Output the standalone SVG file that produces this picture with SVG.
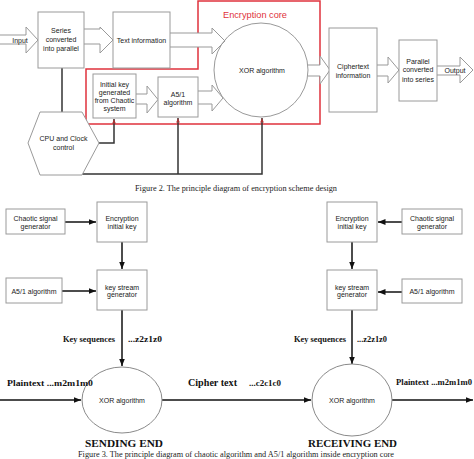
<svg xmlns="http://www.w3.org/2000/svg" width="474" height="459" viewBox="0 0 474 459">
<style>
.bx{fill:#fff;stroke:#9a9a9a;stroke-width:1}
.t{font-family:"Liberation Sans",Arial,sans-serif;font-size:7px;fill:#222;text-anchor:middle}
.ba{fill:#fff;stroke:#999;stroke-width:1}
.dk{fill:none;stroke:#333;stroke-width:1.5}
.bk{fill:none;stroke:#111;stroke-width:1.5}
.el{fill:none;stroke:#8a8a8a;stroke-width:1}
.sb{font-family:"Liberation Serif","Times New Roman",serif;font-weight:bold;fill:#111}
.cap{font-family:"Liberation Serif","Times New Roman",serif;font-size:8px;fill:#222}
</style>
<defs>
<marker id="ah" viewBox="0 0 10 10" refX="10" refY="5" markerWidth="5" markerHeight="5" orient="auto" markerUnits="strokeWidth"><path d="M0,1 L10,5 L0,9 z" fill="#111"/></marker>
<marker id="sm" viewBox="0 0 10 10" refX="10" refY="5" markerWidth="3" markerHeight="3" orient="auto" markerUnits="strokeWidth"><path d="M0,1 L10,5 L0,9 z" fill="#a33"/></marker>
</defs>
<rect width="474" height="459" fill="#fff"/>

<g id="encryption-core">
<path d="M198,1 H320 V124 H86 V69 H198 Z" fill="none" stroke="#e0323c" stroke-width="1.5"/>
<text x="255" y="18" font-family="'Liberation Sans',Arial,sans-serif" font-size="9.5" fill="#e0323c" text-anchor="middle" textLength="64" lengthAdjust="spacingAndGlyphs">Encryption core</text>
</g>

<g id="connectors">
<path class="ba" d="M0,35 H26 V27 L38,40 L26,53 V44 H0"/>
<path class="ba" d="M84,29 H100 V27 L113,40 L100,53 V44 H84"/>
<path class="ba" d="M170,33 H212 V28 L225,41 L212,54 V47 H170"/>
<path class="ba" d="M136,94 H147 V86 L158,99.5 L147,113 V104 H136"/>
<path class="ba" d="M198,91 H212 V85 L223,98 L212,111 V104 H198"/>
<path class="ba" d="M308,65 H320 V56 L330,70 L320,84 V76 H308"/>
<path class="ba" d="M377,65 H388 V57 L399,70 L388,83 V76 H377"/>
<path class="ba" d="M437,66 H460 V57 L473,70 L460,83 V75 H437"/>
<path class="dk" d="M62,68 V112"/>
<path class="dk" d="M99,143 H114 V119" marker-end="url(#sm)"/>
<path class="dk" d="M82,174 H262 V118" marker-end="url(#sm)"/>
<path class="dk" d="M178,174 V118" marker-end="url(#sm)"/>
<path class="bk" d="M65,222 H96" marker-end="url(#ah)"/>
<path class="bk" d="M122,242 V269" marker-end="url(#ah)"/>
<path class="bk" d="M62,291 H96" marker-end="url(#ah)"/>
<path class="bk" d="M122,310 V366" marker-end="url(#ah)"/>
<path class="bk" d="M402,222 H378" marker-end="url(#ah)"/>
<path class="bk" d="M352,242 V269" marker-end="url(#ah)"/>
<path class="bk" d="M402,292 H378" marker-end="url(#ah)"/>
<path class="bk" d="M352,310 V364" marker-end="url(#ah)"/>
<path class="bk" d="M0,400 H81" marker-end="url(#ah)"/>
<path class="bk" d="M162,400 H311" marker-end="url(#ah)"/>
<path class="bk" d="M392,400 H473" marker-end="url(#ah)"/>
</g>

<text class="t" x="20" y="43">Input</text>
<text class="t" x="455" y="73">Output</text>

<g id="series-to-parallel">
<rect class="bx" x="38" y="12" width="46" height="56"/>
<text class="t" x="61" y="33">Series</text>
<text class="t" x="61" y="42">converted</text>
<text class="t" x="61" y="51">into parallel</text>
</g>
<g id="text-information">
<rect class="bx" x="113" y="12" width="57" height="56"/>
<text class="t" x="141.5" y="43">Text information</text>
</g>
<g id="initial-key">
<rect class="bx" x="93" y="74" width="43" height="44"/>
<text class="t" x="114.5" y="86.5">Initial key</text>
<text class="t" x="114.5" y="94.5">generated</text>
<text class="t" x="114.5" y="102.5">from Chaotic</text>
<text class="t" x="114.5" y="110.5">system</text>
</g>
<g id="a51-top">
<rect class="bx" x="158" y="77" width="40" height="40"/>
<text class="t" x="178" y="97">A5/1</text>
<text class="t" x="178" y="105">algorithm</text>
</g>
<g id="xor-top">
<circle cx="261" cy="70" r="47" fill="none" stroke="#9a9a9a" stroke-width="1"/>
<text class="t" x="262" y="73">XOR algorithm</text>
</g>
<g id="ciphertext-information">
<rect class="bx" x="329" y="28" width="48" height="84"/>
<text class="t" x="353" y="69">Ciphertext</text>
<text class="t" x="353" y="77.5">information</text>
</g>
<g id="parallel-to-series">
<rect class="bx" x="399" y="40" width="38" height="61"/>
<text class="t" x="418" y="64">Parallel</text>
<text class="t" x="418" y="72">converted</text>
<text class="t" x="418" y="82">into series</text>
</g>
<g id="cpu-clock">
<polygon points="40,112 82,112 99,143 82,175 40,175 28,143" fill="#fff" stroke="#9a9a9a" stroke-width="1"/>
<text class="t" x="63.5" y="141">CPU and Clock</text>
<text class="t" x="63.5" y="149.5">control</text>
</g>

<text class="cap" x="135" y="190.5" textLength="202" lengthAdjust="spacingAndGlyphs">Figure 2. The principle diagram of encryption scheme design</text>

<g id="chaotic-left">
<rect class="bx" x="6" y="209" width="59" height="25"/>
<text class="t" x="35.5" y="220.5">Chaotic signal</text>
<text class="t" x="35.5" y="228.5">generator</text>
</g>
<g id="enckey-left">
<rect class="bx" x="97" y="202" width="50" height="40"/>
<text class="t" x="122" y="220.5">Encryption</text>
<text class="t" x="122" y="228.5">initial key</text>
</g>
<g id="a51-left">
<rect class="bx" x="6" y="278" width="56" height="25"/>
<text class="t" x="34" y="293.5">A5/1 algorithm</text>
</g>
<g id="keystream-left">
<rect class="bx" x="97" y="270" width="50" height="40"/>
<text class="t" x="122" y="289.5">key stream</text>
<text class="t" x="122" y="297">generator</text>
</g>
<g id="xor-left">
<ellipse class="el" cx="122" cy="400" rx="40" ry="33"/>
<text class="t" x="122" y="403">XOR algorithm</text>
</g>

<g id="enckey-right">
<rect class="bx" x="327" y="202" width="50" height="40"/>
<text class="t" x="352" y="220.5">Encryption</text>
<text class="t" x="352" y="228.5">initial key</text>
</g>
<g id="chaotic-right">
<rect class="bx" x="402" y="209" width="60" height="25"/>
<text class="t" x="432" y="220.5">Chaotic signal</text>
<text class="t" x="432" y="228.5">generator</text>
</g>
<g id="keystream-right">
<rect class="bx" x="327" y="270" width="50" height="40"/>
<text class="t" x="352" y="289.5">key stream</text>
<text class="t" x="352" y="297">generator</text>
</g>
<g id="a51-right">
<rect class="bx" x="402" y="279" width="60" height="24"/>
<text class="t" x="432" y="294">A5/1 algorithm</text>
</g>
<g id="xor-right">
<ellipse class="el" cx="352" cy="400" rx="40" ry="36"/>
<text class="t" x="352" y="403">XOR algorithm</text>
</g>

<g id="labels">
<text class="sb" x="63" y="342" font-size="8.5" textLength="52" lengthAdjust="spacingAndGlyphs">Key sequences</text>
<text class="sb" x="128" y="342" font-size="8.5" textLength="34" lengthAdjust="spacingAndGlyphs">...z2z1z0</text>
<text class="sb" x="7" y="386" font-size="8.5" textLength="86" lengthAdjust="spacingAndGlyphs">Plaintext  ...m2m1m0</text>
<text class="sb" x="188" y="386" font-size="10" textLength="49" lengthAdjust="spacingAndGlyphs">Cipher text</text>
<text class="sb" x="249" y="386" font-size="8.5" textLength="32" lengthAdjust="spacingAndGlyphs">...c2c1c0</text>
<text class="sb" x="294" y="342" font-size="8.5" textLength="52" lengthAdjust="spacingAndGlyphs">Key sequences</text>
<text class="sb" x="357" y="342" font-size="8.5" textLength="30" lengthAdjust="spacingAndGlyphs">...z2z1z0</text>
<text class="sb" x="396" y="385" font-size="8.5" textLength="76" lengthAdjust="spacingAndGlyphs">Plaintext  ...m2m1m0</text>
<text class="sb" x="85" y="447" font-size="10" textLength="78" lengthAdjust="spacingAndGlyphs">SENDING END</text>
<text class="sb" x="308" y="447" font-size="10" textLength="89" lengthAdjust="spacingAndGlyphs">RECEIVING END</text>
</g>

<text class="cap" x="78" y="456.5" font-size="7" textLength="316" lengthAdjust="spacingAndGlyphs">Figure 3. The principle diagram of chaotic algorithm and A5/1 algorithm inside encryption core</text>
</svg>
